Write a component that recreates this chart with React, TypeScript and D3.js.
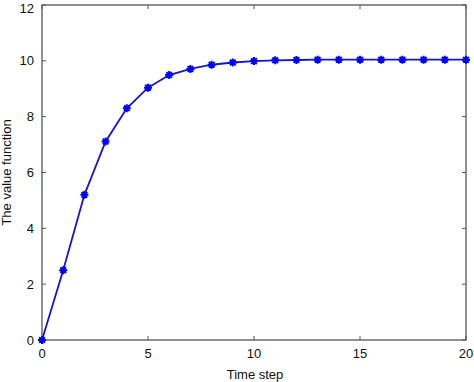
import React from "react";
import * as d3 from "d3";

const steps = [0, 1, 2, 3, 4, 5, 6, 7, 8, 9, 10, 11, 12, 13, 14, 15, 16, 17, 18, 19, 20];
const values = [0, 2.5, 5.2, 7.11, 8.3, 9.04, 9.49, 9.71, 9.86, 9.94, 9.99, 10.02, 10.03, 10.04, 10.04, 10.04, 10.04, 10.04, 10.04, 10.04, 10.04];
const xTicks = [0, 5, 10, 15, 20];
const yTicks = [0, 2, 4, 6, 8, 10, 12];

export default function App() {
  const W = 474, H = 382;
  const left = 42, right = 466, top = 5, bottom = 340;
  const x = d3.scaleLinear().domain([0, 20]).range([left, right]);
  const y = d3.scaleLinear().domain([0, 12]).range([bottom, top]);
  const line = d3.line<number>().x((_, i) => x(steps[i])).y((d) => y(d));
  const font = "Liberation Sans, Arial, sans-serif";
  const axisColor = "#555";
  const tl = 4;
  const star = (cx: number, cy: number, k: number) => {
    const r = 4;
    const segs = [0, 45, 90, 135].map((a) => {
      const rad = (a * Math.PI) / 180;
      const dx = r * Math.cos(rad), dy = r * Math.sin(rad);
      return `M${cx - dx},${cy - dy}L${cx + dx},${cy + dy}`;
    });
    return <path key={k} d={segs.join("")} stroke="#0000ff" strokeWidth={2} fill="none" />;
  };
  return (
    <svg width={W} height={H} style={{ position: "absolute", left: 0, top: 0, background: "#fff" }}>
      <rect x={left} y={top} width={right - left} height={bottom - top} fill="none" stroke={axisColor} strokeWidth={1.3} />
      {xTicks.map((t) => (
        <g key={"x" + t}>
          <line x1={x(t)} x2={x(t)} y1={bottom} y2={bottom - tl} stroke={axisColor} />
          <line x1={x(t)} x2={x(t)} y1={top} y2={top + tl} stroke={axisColor} />
          <text x={x(t)} y={358} fontSize={13} fontFamily={font} textAnchor="middle" fill="#111">{t}</text>
        </g>
      ))}
      {yTicks.map((t) => (
        <g key={"y" + t}>
          <line x1={left} x2={left + tl} y1={y(t)} y2={y(t)} stroke={axisColor} />
          <line x1={right} x2={right - tl} y1={y(t)} y2={y(t)} stroke={axisColor} />
          <text x={34} y={Math.max(y(t) + 4.5, 13)} fontSize={13} fontFamily={font} textAnchor="end" fill="#111">{t}</text>
        </g>
      ))}
      <path d={line(values) || ""} fill="none" stroke="#1515d0" strokeWidth={1.8} />
      {values.map((v, i) => star(x(steps[i]), y(v), i))}
      <text x={255} y={379} fontSize={13} fontFamily={font} textAnchor="middle" fill="#111">Time step</text>
      <text transform={`translate(11,${(top + bottom) / 2}) rotate(-90)`} fontSize={13} fontFamily={font} textAnchor="middle" fill="#111">The value function</text>
    </svg>
  );
}
